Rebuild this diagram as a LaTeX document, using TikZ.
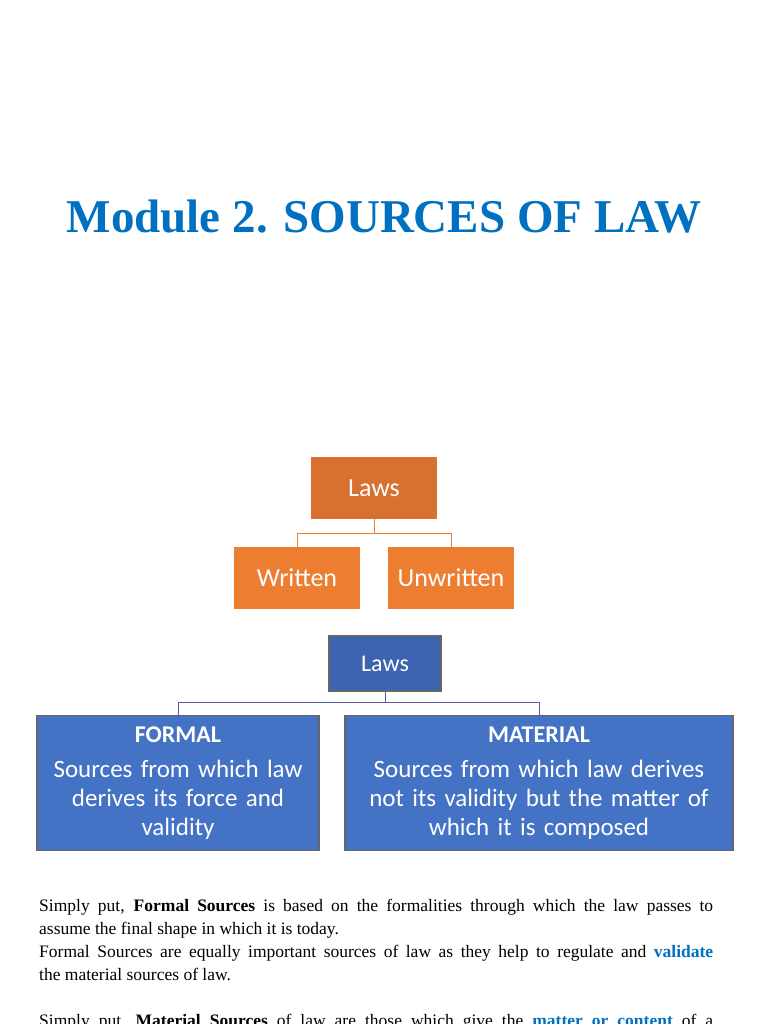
\documentclass[tikz,border=0pt]{standalone}
\usepackage{fontspec}
\setmainfont{Liberation Serif}
\newfontfamily\carlito{Carlito}
\definecolor{ttl}{RGB}{0,112,192}
\definecolor{dorg}{RGB}{216,112,48}
\definecolor{lorg}{RGB}{237,125,49}
\definecolor{bl}{RGB}{68,114,196}
\definecolor{dbl}{RGB}{61,100,176}
\begin{document}
\begin{tikzpicture}[x=1pt,y=-1pt,
  ob/.style={draw=none,fill=lorg,minimum width=126pt,minimum height=62pt,inner sep=0pt,text=white,font=\carlito\fontsize{26}{30}\selectfont},
  bb/.style={draw=gray!80!black,line width=1.2pt,fill=bl,inner sep=2pt,text=white,align=center,font=\carlito\fontsize{25}{29}\selectfont},
  oc/.style={draw=lorg,line width=0.7pt},
  bc/.style={draw=gray!70!blue,line width=0.7pt}]
\useasboundingbox (0,0) rectangle (768,1024);
\clip (0,0) rectangle (768,1024);
\node[text=ttl,font=\bfseries\fontsize{47}{52}\selectfont] (title) at (384,217) {Module 2. SOURCES OF LAW};
\node[ob,fill=dorg] (l1) at (374,488) {Laws};
\node[ob] (w) at (297,578) {Written};
\node[ob] (u) at (451,578) {Unwritten};
\draw[oc] (l1.south) -- ++(0,14) -| (w.north);
\draw[oc] (l1.south) -- ++(0,14) -| (u.north);
\node[bb,fill=dbl,minimum width=112pt,minimum height=55pt,font=\carlito\fontsize{24}{28}\selectfont] (l2) at (385,663.5) {Laws};
\node[bb,minimum width=282pt,minimum height=135pt,text width=276pt,anchor=north] (f) at (178,715) {\textbf{\fontsize{24}{28}\selectfont FORMAL}\\[6pt]Sources from which law\\derives its force and\\validity};
\node[bb,minimum width=388pt,minimum height=135pt,text width=382pt,anchor=north] (m) at (539,715) {\textbf{\fontsize{24}{28}\selectfont MATERIAL}\\[6pt]Sources from which law derives\\not its validity but the matter of\\which it is composed};
\draw[bc] (l2.south) -- ++(0,11) -| (f.north);
\draw[bc] (l2.south) -- ++(0,11) -| (m.north);
\node[anchor=north west,text width=674pt,inner sep=0pt,align=justify,font=\fontsize{17.5}{23}\selectfont] (p) at (39,899) {Simply put, \textbf{Formal Sources} is based on the formalities through which the law passes to\linebreak assume the final shape in which it is today.\\
Formal Sources are equally important sources of law as they help to regulate and \textcolor{ttl}{\textbf{validate}}\linebreak the material sources of law.\\[23pt]
Simply put, \textbf{Material Sources} of law are those which give the \textcolor{ttl}{\textbf{matter or content}} of a\linebreak\mbox{}};
\end{tikzpicture}
\end{document}
